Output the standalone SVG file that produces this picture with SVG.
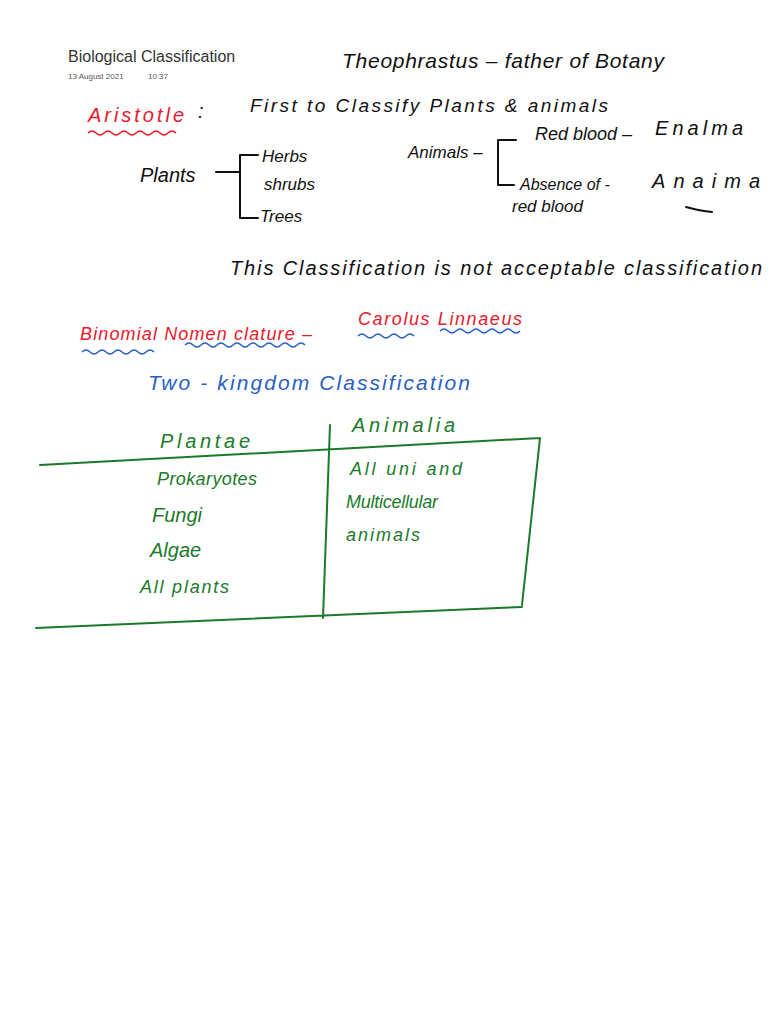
<svg xmlns="http://www.w3.org/2000/svg" width="768" height="1024" viewBox="0 0 768 1024">
<style>
.h{font-family:"Liberation Sans",Arial,sans-serif;font-style:italic}
.k{fill:#111}.r{fill:#e8192c}.b{fill:#2a5fc4}.g{fill:#1a7a2a}
.sk{stroke:#111;fill:none;stroke-width:2;stroke-linecap:round}
.sg{stroke:#1a7a2a;fill:none;stroke-width:2;stroke-linecap:round}
.wr{stroke:#e8192c;fill:none;stroke-width:1.5}
.wb{stroke:#2a5fc4;fill:none;stroke-width:1.5}
</style>
<rect width="768" height="1024" fill="#fff"/>
<text x="68" y="62" font-family="Liberation Sans,Arial,sans-serif" font-size="16" fill="#333">Biological Classification</text>
<text x="68" y="79" font-family="Liberation Sans,Arial,sans-serif" font-size="8" fill="#555">13 August 2021</text>
<text x="148" y="79" font-family="Liberation Sans,Arial,sans-serif" font-size="8" fill="#555">10:37</text>
<text x="342" y="68" class="h k" font-size="21" textLength="322" lengthAdjust="spacing">Theophrastus – father of Botany</text>
<text x="88" y="122" class="h r" font-size="20" textLength="96" lengthAdjust="spacing">Aristotle</text>
<path class="wr" d="M88 133 q4 -4 8 0 t8 0 t8 0 t8 0 t8 0 t8 0 t8 0 t8 0 t8 0 t8 0 t8 0"/>
<text x="198" y="118" class="h k" font-size="20">:</text>
<text x="250" y="112" class="h k" font-size="19" textLength="358" lengthAdjust="spacing">First  to  Classify  Plants  &amp;  animals</text>
<text x="140" y="182" class="h k" font-size="20">Plants</text>
<path class="sk" d="M216 172 H240 M240 155 V218 M240 155 H258 M240 218 H258"/>
<text x="262" y="162" class="h k" font-size="17">Herbs</text>
<text x="264" y="190" class="h k" font-size="17">shrubs</text>
<text x="260" y="222" class="h k" font-size="17">Trees</text>
<text x="408" y="158" class="h k" font-size="17">Animals –</text>
<path class="sk" d="M498 140 V185 M498 140 H516 M498 185 H514"/>
<text x="535" y="140" class="h k" font-size="18">Red blood –</text>
<text x="655" y="135" class="h k" font-size="20" textLength="88" lengthAdjust="spacing">Enalma</text>
<text x="520" y="190" class="h k" font-size="16">Absence of -</text>
<text x="652" y="188" class="h k" font-size="20" textLength="108" lengthAdjust="spacing">Anaima</text>
<text x="512" y="212" class="h k" font-size="17">red blood</text>
<path class="sk" d="M686 207 Q700 211 712 212"/>
<text x="230" y="275" class="h k" font-size="20" textLength="532" lengthAdjust="spacing">This  Classification  is  not  acceptable  classification</text>
<text x="80" y="340" class="h r" font-size="18" textLength="232" lengthAdjust="spacing">Binomial  Nomen clature  –</text>
<path class="wb" d="M82 352 q4 -4 8 0 t8 0 t8 0 t8 0 t8 0 t8 0 t8 0 t8 0 t8 0 M185 345 q4 -4 8 0 t8 0 t8 0 t8 0 t8 0 t8 0 t8 0 t8 0 t8 0 t8 0 t8 0 t8 0 t8 0 t8 0 t8 0"/>
<text x="358" y="325" class="h r" font-size="18" textLength="164" lengthAdjust="spacing">Carolus  Linnaeus</text>
<path class="wb" d="M358 336 q4 -4 8 0 t8 0 t8 0 t8 0 t8 0 t8 0 t8 0 M440 331 q4 -4 8 0 t8 0 t8 0 t8 0 t8 0 t8 0 t8 0 t8 0 t8 0 t8 0"/>
<text x="148" y="390" class="h b" font-size="21" textLength="322" lengthAdjust="spacing">Two  -  kingdom  Classification</text>
<text x="160" y="448" class="h g" font-size="20" textLength="90" lengthAdjust="spacing">Plantae</text>
<text x="352" y="432" class="h g" font-size="20" textLength="103" lengthAdjust="spacing">Animalia</text>
<path class="sg" d="M330 425 L323 618 M40 465 L540 438 M540 438 L522 605 M522 607 L36 628"/>
<text x="157" y="485" class="h g" font-size="18" textLength="100" lengthAdjust="spacing">Prokaryotes</text>
<text x="152" y="522" class="h g" font-size="20">Fungi</text>
<text x="150" y="557" class="h g" font-size="20">Algae</text>
<text x="140" y="593" class="h g" font-size="18" textLength="89" lengthAdjust="spacing">All plants</text>
<text x="350" y="475" class="h g" font-size="18" textLength="112" lengthAdjust="spacing">All uni and</text>
<text x="346" y="508" class="h g" font-size="18" textLength="92" lengthAdjust="spacing">Multicellular</text>
<text x="346" y="541" class="h g" font-size="18" textLength="74" lengthAdjust="spacing">animals</text>
</svg>
